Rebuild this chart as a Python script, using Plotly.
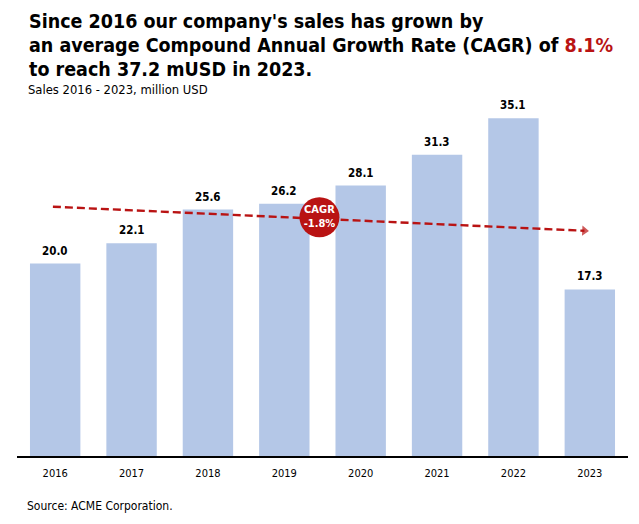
import plotly.graph_objects as go

years = ["2016", "2017", "2018", "2019", "2020", "2021", "2022", "2023"]
sales = [20.0, 22.1, 25.6, 26.2, 28.1, 31.3, 35.1, 17.3]
trend_x = [-0.03, 6.93]
trend_y = [25.9, 23.4]
cagr_label = "CAGR<br>-1.8%"
cagr_pos = (3.46, 24.8)

FONT = "DejaVu Sans Condensed, DejaVu Sans, sans-serif"
RED = "#b91313"
L, R, T, B = 17, 11, 71, 68
W, H = 639, 524
PW = W - L - R
PH = H - T - B

def px(x):
    return (x - L) / PW

def py(y):
    return (H - B - y) / PH

fig = go.Figure()
fig.add_trace(go.Bar(
    x=list(range(len(years))), y=sales,
    marker=dict(color="#b4c7e7", line=dict(width=0)),
    hoverinfo="skip",
))
fig.add_trace(go.Scatter(
    x=trend_x, y=trend_y, mode="lines+markers",
    line=dict(color=RED, width=2.4, dash="8px,4px"),
    marker=dict(symbol="triangle-up", size=[0, 9], angleref="previous", color=RED,
                line=dict(width=0)),
    hoverinfo="skip",
))
fig.add_trace(go.Scatter(
    x=[cagr_pos[0]], y=[cagr_pos[1]], mode="markers+text",
    marker=dict(size=40, color=RED, line=dict(width=0)),
    text=[f"<b>{cagr_label}</b>"], textposition="middle center",
    textfont=dict(family=FONT, size=11, color="white"),
    hoverinfo="skip",
))

ann = []
for i, v in enumerate(sales):
    ann.append(dict(text=f"<b>{v:.1f}</b>", x=i, y=v, xref="x", yref="y",
                    yshift=13, showarrow=False, yanchor="middle",
                    font=dict(family=FONT, size=11.5, color="black")))

title_lines = [
    "Since 2016 our company's sales has grown by",
    f"an average Compound Annual Growth Rate (CAGR) of <span style='color:{RED}'>8.1%</span>",
    "to reach 37.2 mUSD in 2023.",
]
for i, t in enumerate(title_lines):
    ann.append(dict(text=f"<b>{t}</b>", x=px(27), y=py(7.5 + 24.5 * i), xref="paper", yref="paper",
                    xanchor="left", yanchor="top", showarrow=False,
                    font=dict(family=FONT, size=19.5, color="black")))
ann.append(dict(text="Sales 2016 - 2023, million USD", x=px(26), y=py(80), xref="paper", yref="paper",
                xanchor="left", yanchor="top", showarrow=False,
                font=dict(family=FONT, size=12.9, color="black")))
ann.append(dict(text="Source: ACME Corporation.", x=px(25), y=py(497), xref="paper", yref="paper",
                xanchor="left", yanchor="top", showarrow=False,
                font=dict(family=FONT, size=12, color="black")))

fig.update_layout(
    width=W, height=H, margin=dict(l=L, r=R, t=T, b=B),
    plot_bgcolor="white", paper_bgcolor="white",
    showlegend=False, bargap=0.34,
    annotations=ann,
    xaxis=dict(tickmode="array", tickvals=list(range(len(years))), ticktext=years,
               range=[-0.5, len(years) - 0.5], showgrid=False, zeroline=False,
               showline=True, linecolor="black", linewidth=2,
               tickfont=dict(family=FONT, size=11, color="black"), ticks="",
               ticklabelstandoff=6),
    yaxis=dict(range=[0, 40], visible=False, showgrid=False),
)

fig.write_html("out.html")
